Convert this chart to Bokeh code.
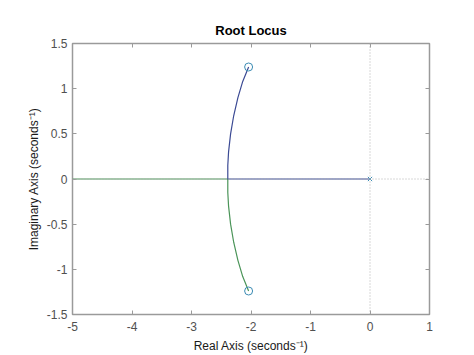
from bokeh.plotting import figure
from bokeh.models import LinearAxis, Span, FixedTicker, Range1d, CustomJSTickFormatter
from bokeh.embed import file_html
from bokeh.resources import INLINE

# Data
zeros_re = [-2.04, -2.04]
zeros_im = [1.24, -1.24]
poles_re = [0.0]
poles_im = [0.0]

branch1_re = [0.0, -1.0, -2.0, -2.39, -2.39, -2.377, -2.343, -2.291, -2.22, -2.139, -2.04]
branch1_im = [0.0, 0.0, 0.0, 0.0, 0.15, 0.3, 0.5, 0.7, 0.9, 1.08, 1.24]
branch2_re = [-5.0, -4.0, -3.0, -2.39, -2.39, -2.377, -2.343, -2.291, -2.22, -2.139, -2.04]
branch2_im = [0.0, 0.0, 0.0, 0.0, -0.15, -0.3, -0.5, -0.7, -0.9, -1.08, -1.24]

x_ticks = [-5, -4, -3, -2, -1, 0, 1]
y_ticks = [-1.5, -1, -0.5, 0, 0.5, 1, 1.5]

FONT = "Liberation Sans"
TICK_COL = "#505050"
BOX_COL = "#9a9a9a"

p = figure(width=474, height=355, output_backend="svg", toolbar_location=None,
           x_range=Range1d(-5, 1), y_range=Range1d(-1.5, 1.5),
           title="Root Locus", min_border_left=72, min_border_right=45,
           min_border_top=43, min_border_bottom=40,
           x_axis_label="Real Axis (seconds\u207b\u00b9)",
           y_axis_label="Imaginary Axis (seconds\u207b\u00b9)")

p.background_fill_color = "white"
p.border_fill_color = "white"
p.grid.visible = False
p.outline_line_color = BOX_COL
p.outline_line_width = 1.5

p.title.align = "center"
p.title.text_font = FONT
p.title.text_font_size = "13px"
p.title.text_font_style = "bold"
p.title.text_color = "black"
p.title.standoff = 11

fmt = CustomJSTickFormatter(code="return tick.toString();")

for ax, ticks in ((p.xaxis[0], x_ticks), (p.yaxis[0], y_ticks)):
    ax.ticker = FixedTicker(ticks=ticks)
    ax.formatter = fmt
    ax.major_tick_in = 4
    ax.major_tick_out = 0
    ax.minor_tick_line_color = None
    ax.axis_line_color = None
    ax.major_tick_line_color = BOX_COL
    ax.major_label_text_font = FONT
    ax.major_label_text_font_size = "12px"
    ax.major_label_text_color = TICK_COL
    ax.axis_label_text_font = FONT
    ax.axis_label_text_font_size = "12px"
    ax.axis_label_text_font_style = "normal"
    ax.axis_label_text_color = "#1a1a1a"

p.xaxis[0].major_label_standoff = 7
p.xaxis[0].axis_label_standoff = 5
p.yaxis[0].major_label_standoff = 5
p.yaxis[0].axis_label_standoff = 3

blank = CustomJSTickFormatter(code="return '';")
for loc, ticks in (("above", x_ticks), ("right", y_ticks)):
    ax = LinearAxis(ticker=FixedTicker(ticks=ticks), formatter=blank)
    ax.major_tick_in = 4
    ax.major_tick_out = 0
    ax.minor_tick_line_color = None
    ax.axis_line_color = None
    ax.major_tick_line_color = BOX_COL
    ax.major_label_standoff = 0
    p.add_layout(ax, loc)

# dotted zero lines
p.add_layout(Span(location=0, dimension="height", line_color="#b0b0b0",
                  line_dash="1 2", line_width=1))
p.add_layout(Span(location=0, dimension="width", line_color="#b0b0b0",
                  line_dash="1 2", line_width=1))

p.line(branch2_re, branch2_im, line_color="#4a9458", line_width=1.2)
p.line(branch1_re, branch1_im, line_color="#3b4a94", line_width=1.2)

p.scatter(zeros_re, zeros_im, marker="circle", size=8, fill_color=None,
          line_color="#3c8cb4", line_width=1)
p.scatter(poles_re, poles_im, marker="x", size=6, line_color="#3c8cb4",
          line_width=1)

open("out.html", "w").write(file_html(p, INLINE))
